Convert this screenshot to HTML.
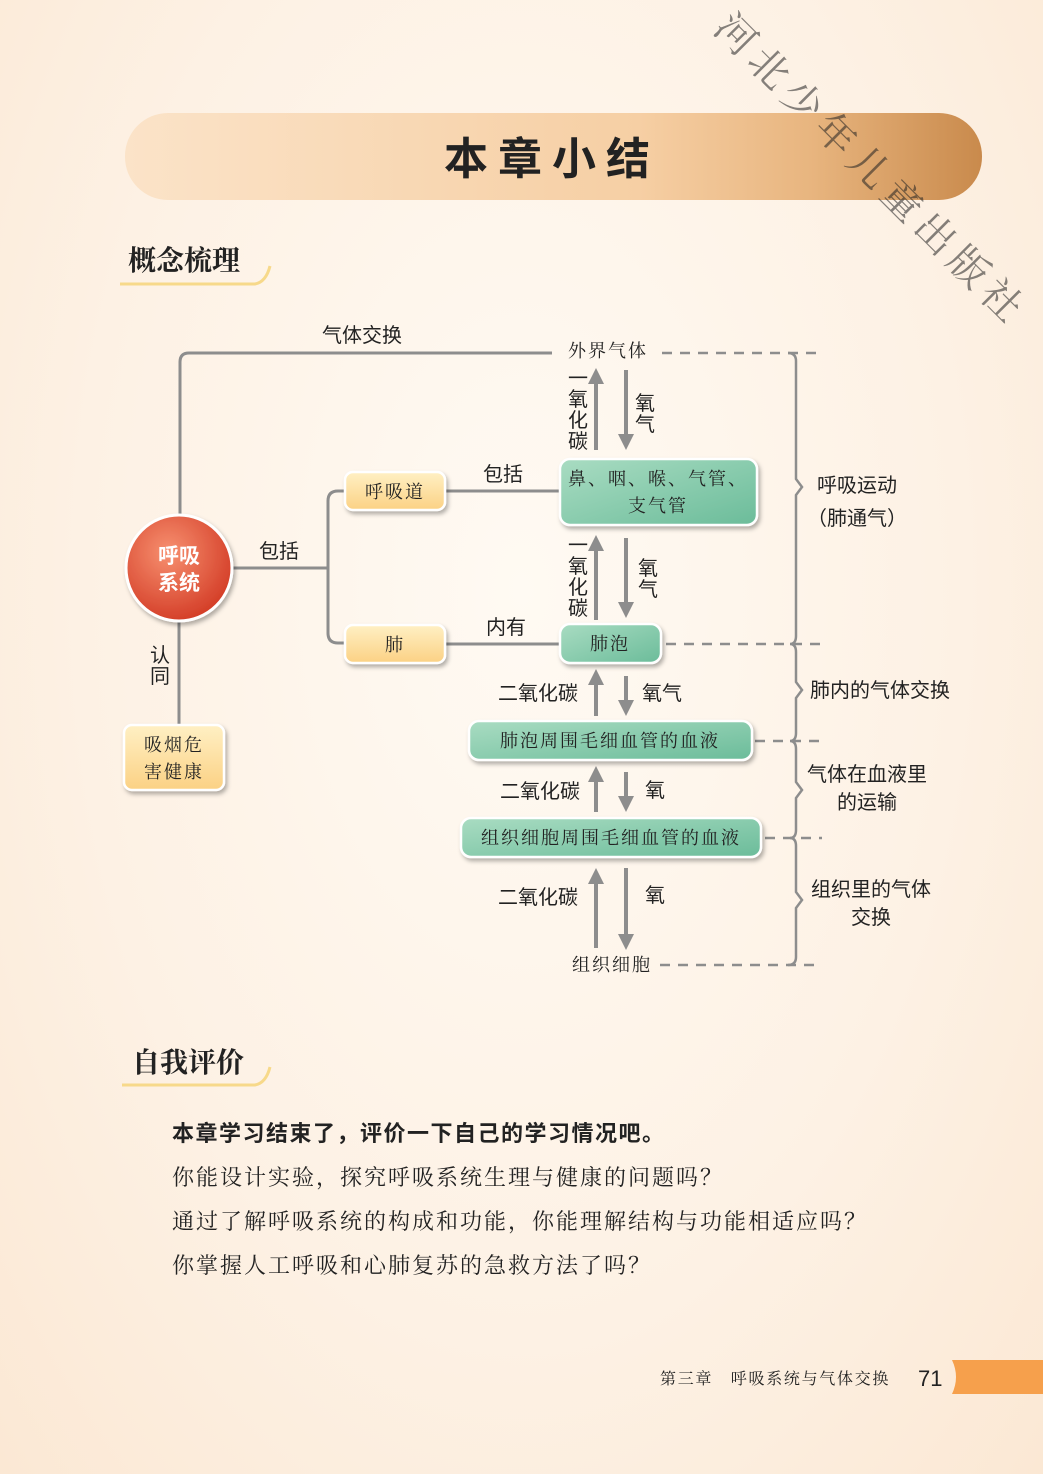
<!DOCTYPE html>
<html><head><meta charset="utf-8"><style>
html,body{margin:0;padding:0;width:1043px;height:1474px;overflow:hidden}
body{background:radial-gradient(ellipse at 50% 40%,#fffaf3 0%,#fdf1e4 60%,#fbe8d4 100%)}
svg{display:block}
text{font-family:"Liberation Sans","Noto Sans CJK SC",sans-serif;fill:#222}
.s{font-family:"Liberation Serif","Noto Serif CJK SC",serif}
</style></head><body>
<svg width="1043" height="1474" viewBox="0 0 1043 1474">
<defs>
<linearGradient id="ban" x1="0" x2="1" y1="0" y2="0">
<stop offset="0" stop-color="#fbe3c8"/><stop offset="0.6" stop-color="#f6cfa4"/><stop offset="0.8" stop-color="#e8b57f"/><stop offset="1" stop-color="#c98a4c"/></linearGradient>
<linearGradient id="gr" x1="0" x2="1" y1="0" y2="1"><stop offset="0" stop-color="#a9dcc2"/><stop offset="1" stop-color="#6bbc9a"/></linearGradient>
<linearGradient id="ye" x1="0" x2="0" y1="0" y2="1"><stop offset="0" stop-color="#fff0c4"/><stop offset="1" stop-color="#fbd184"/></linearGradient>
<radialGradient id="rd" cx="0.4" cy="0.35" r="0.7"><stop offset="0" stop-color="#f79070"/><stop offset="1" stop-color="#d23a24"/></radialGradient>
<filter id="sh"><feDropShadow dx="2" dy="3" stdDeviation="2" flood-color="#000" flood-opacity="0.3"/></filter>
<marker id="ah" markerWidth="4" markerHeight="4" refX="2" refY="2" orient="auto" markerUnits="strokeWidth"><path d="M0,0 L4,2 L0,4 z" fill="#8d8d8d"/></marker>
</defs>
<rect x="125" y="113" width="857" height="87" rx="43" fill="url(#ban)"/>
<text x="552" y="174" text-anchor="middle" font-size="44" font-weight="bold" letter-spacing="10" fill="#1a1a1a">本章小结</text>
<g transform="translate(712,30) rotate(45)" opacity="0.55">
<text class="s" x="0" y="0" font-size="40" fill="#777" letter-spacing="7">河北少年儿童出版社</text></g>
<text class="s" x="128" y="270" font-size="28" font-weight="bold">概念梳理</text>
<path d="M120,284 L255,284 Q266,282 270,266" stroke="#f7d98a" stroke-width="3" fill="none"/>
<text class="s" x="132" y="1072" font-size="28" font-weight="bold">自我评价</text>
<path d="M122,1085 L255,1085 Q266,1083 270,1067" stroke="#f7d98a" stroke-width="3" fill="none"/>
<g stroke="#8d8d8d" stroke-width="3" fill="none">
<path d="M180,515 L180,362 Q180,353 189,353 L552,353"/>
<path d="M233,568 L328,568"/>
<path d="M345,491 L338,491 Q328,491 328,501 L328,633 Q328,643 338,643 L345,643"/>
<path d="M445,491 L560,491"/><path d="M445,644 L560,644"/>
<path d="M179,622 L179,725"/>
</g>
<g stroke="#8d8d8d" stroke-width="4" fill="none">
<line x1="596" y1="450" x2="596" y2="376" marker-end="url(#ah)"/>
<line x1="626" y1="370" x2="626" y2="442" marker-end="url(#ah)"/>
<line x1="596" y1="620" x2="596" y2="543" marker-end="url(#ah)"/>
<line x1="626" y1="538" x2="626" y2="610" marker-end="url(#ah)"/>
<line x1="596" y1="716" x2="596" y2="677" marker-end="url(#ah)"/>
<line x1="626" y1="676" x2="626" y2="708" marker-end="url(#ah)"/>
<line x1="596" y1="812" x2="596" y2="774" marker-end="url(#ah)"/>
<line x1="626" y1="772" x2="626" y2="804" marker-end="url(#ah)"/>
<line x1="596" y1="948" x2="596" y2="876" marker-end="url(#ah)"/>
<line x1="626" y1="868" x2="626" y2="942" marker-end="url(#ah)"/>
</g>
<g stroke="#8d8d8d" stroke-width="2.5" stroke-dasharray="10,8" fill="none">
<line x1="662" y1="353" x2="822" y2="353"/>
<line x1="666" y1="644" x2="822" y2="644"/>
<line x1="755" y1="741" x2="822" y2="741"/>
<line x1="765" y1="838" x2="822" y2="838"/>
<line x1="660" y1="965" x2="822" y2="965"/>
</g>
<path d="M788,353 Q796,353 796,361 L796,479 L802,487 L796,495 L796,636 Q796,644 790,644 Q796,644 796,652 L796,682 L802,690 L796,698 L796,733 Q796,741 790,741 Q796,741 796,749 L796,782 L802,790 L796,798 L796,830 Q796,838 790,838 Q796,838 796,846 L796,892 L802,900 L796,908 L796,957 Q796,965 788,965" stroke="#8d8d8d" stroke-width="2.5" fill="none"/>
<circle cx="179" cy="568" r="53" fill="url(#rd)" stroke="#fff" stroke-width="3" filter="url(#sh)"/>
<text x="179" y="563" text-anchor="middle" font-size="21" font-weight="bold" style="fill:#fff">呼吸</text>
<text x="179" y="590" text-anchor="middle" font-size="21" font-weight="bold" style="fill:#fff">系统</text>
<g stroke="#fff" stroke-width="2.5" filter="url(#sh)">
<rect x="345" y="472" width="100" height="38" rx="8" fill="url(#ye)"/>
<rect x="345" y="625" width="100" height="38" rx="8" fill="url(#ye)"/>
<rect x="124" y="725" width="100" height="65" rx="8" fill="url(#ye)"/>
<rect x="560" y="459" width="197" height="66" rx="10" fill="url(#gr)"/>
<rect x="560" y="624" width="101" height="39" rx="10" fill="url(#gr)"/>
<rect x="469" y="721" width="283" height="39" rx="10" fill="url(#gr)"/>
<rect x="461" y="818" width="300" height="39" rx="10" fill="url(#gr)"/>
</g>
<g letter-spacing="2">
<text class="s" x="395" y="498" text-anchor="middle" font-size="18">呼吸道</text>
<text class="s" x="395" y="651" text-anchor="middle" font-size="18">肺</text>
<text class="s" x="174" y="751" text-anchor="middle" font-size="18">吸烟危</text>
<text class="s" x="174" y="778" text-anchor="middle" font-size="18">害健康</text>
<text class="s" x="658" y="485" text-anchor="middle" font-size="18">鼻、咽、喉、气管、</text>
<text class="s" x="658" y="512" text-anchor="middle" font-size="18">支气管</text>
<text class="s" x="610" y="650" text-anchor="middle" font-size="18">肺泡</text>
<text class="s" x="610" y="747" text-anchor="middle" font-size="18">肺泡周围毛细血管的血液</text>
<text class="s" x="611" y="844" text-anchor="middle" font-size="18">组织细胞周围毛细血管的血液</text>
<text class="s" x="608" y="357" text-anchor="middle" font-size="18">外界气体</text>
<text class="s" x="612" y="971" text-anchor="middle" font-size="18">组织细胞</text>
</g>
<g font-size="20">
<text x="362" y="342" text-anchor="middle">气体交换</text>
<text x="279" y="558" text-anchor="middle">包括</text>
<text x="503" y="481" text-anchor="middle">包括</text>
<text x="506" y="634" text-anchor="middle">内有</text>
<text x="160" y="662" text-anchor="middle">认</text>
<text x="160" y="683" text-anchor="middle">同</text>
<text x="578" y="385" text-anchor="middle">一</text><text x="578" y="406" text-anchor="middle">氧</text><text x="578" y="427" text-anchor="middle">化</text><text x="578" y="448" text-anchor="middle">碳</text>
<text x="645" y="410" text-anchor="middle">氧</text><text x="645" y="431" text-anchor="middle">气</text>
<text x="578" y="552" text-anchor="middle">一</text><text x="578" y="573" text-anchor="middle">氧</text><text x="578" y="594" text-anchor="middle">化</text><text x="578" y="615" text-anchor="middle">碳</text>
<text x="648" y="575" text-anchor="middle">氧</text><text x="648" y="596" text-anchor="middle">气</text>
<text x="538" y="700" text-anchor="middle">二氧化碳</text>
<text x="662" y="700" text-anchor="middle">氧气</text>
<text x="540" y="798" text-anchor="middle">二氧化碳</text>
<text x="655" y="797" text-anchor="middle">氧</text>
<text x="538" y="904" text-anchor="middle">二氧化碳</text>
<text x="655" y="902" text-anchor="middle">氧</text>
<text x="857" y="492" text-anchor="middle">呼吸运动</text>
<text x="857" y="525" text-anchor="middle">（肺通气）</text>
<text x="880" y="697" text-anchor="middle">肺内的气体交换</text>
<text x="867" y="781" text-anchor="middle">气体在血液里</text>
<text x="867" y="809" text-anchor="middle">的运输</text>
<text x="871" y="896" text-anchor="middle">组织里的气体</text>
<text x="871" y="924" text-anchor="middle">交换</text>
</g>
<text x="172" y="1141" font-size="22" letter-spacing="1.5" font-weight="bold">本章学习结束了，评价一下自己的学习情况吧。</text>
<text class="s" x="172" y="1185" font-size="22" letter-spacing="2">你能设计实验，探究呼吸系统生理与健康的问题吗？</text>
<text class="s" x="172" y="1229" font-size="22" letter-spacing="2">通过了解呼吸系统的构成和功能，你能理解结构与功能相适应吗？</text>
<text class="s" x="172" y="1273" font-size="22" letter-spacing="2">你掌握人工呼吸和心肺复苏的急救方法了吗？</text>
<text class="s" x="660" y="1384" font-size="16" letter-spacing="1.7" fill="#333">第三章　呼吸系统与气体交换</text>
<text x="918" y="1386" font-size="22" fill="#333">71</text>
<path d="M952,1360 L1043,1360 L1043,1394 L952,1394 Q960,1377 952,1360 z" fill="#f6a04c"/>
</svg>
</body></html>
